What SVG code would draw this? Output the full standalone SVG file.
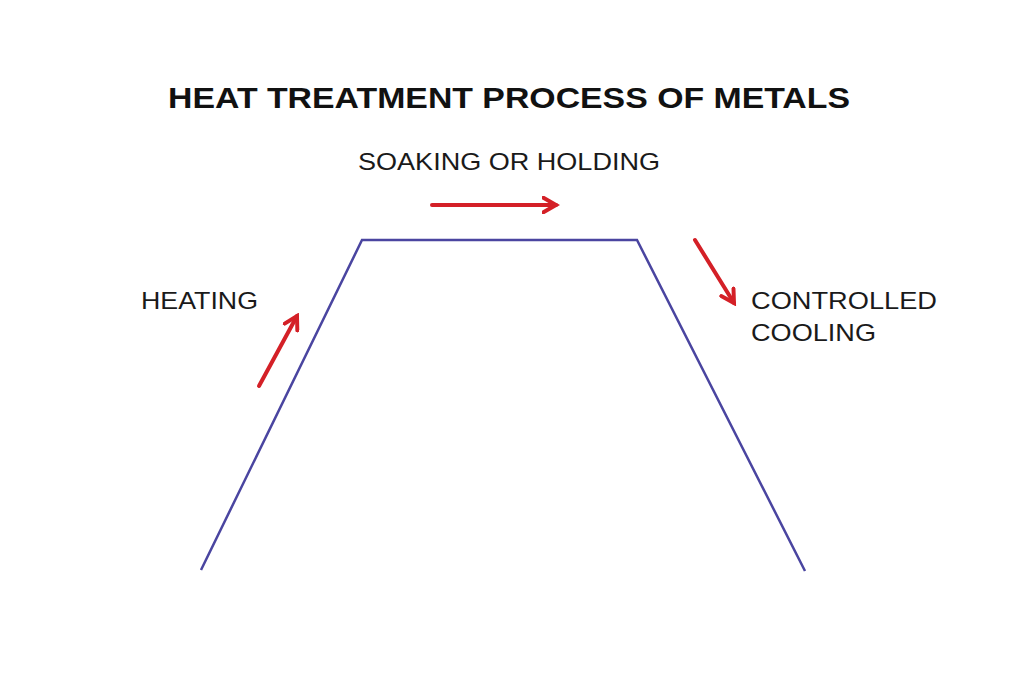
<svg xmlns="http://www.w3.org/2000/svg" width="1024" height="683" viewBox="0 0 1024 683">
<style>
.t{font-family:"Liberation Sans",Arial,sans-serif;font-size:24px;fill:#1a1a1a}
.h{font-family:"Liberation Sans",Arial,sans-serif;font-size:30px;font-weight:bold;fill:#111}
.a{stroke:#d42027;stroke-width:4;fill:none;stroke-linecap:round;stroke-linejoin:round}
</style>
<defs><marker id="m" viewBox="0 0 10 10" refX="8" refY="5" markerWidth="4.5" markerHeight="4.5" orient="auto" markerUnits="strokeWidth"><path d="M1,1 L8,5 L1,9" fill="none" stroke="#d42027" stroke-width="2.2" stroke-linecap="round"/></marker></defs>
<rect width="1024" height="683" fill="#fff"/>
<text class="h" x="168" y="108" textLength="682" lengthAdjust="spacingAndGlyphs">HEAT TREATMENT PROCESS OF METALS</text>
<g id="curve"><polyline points="201,570 362,240 637,240 805,571" fill="none" stroke="#4a45a0" stroke-width="2.5"/></g>
<g id="connectors">
<line class="a" x1="432" y1="205" x2="556" y2="205" marker-end="url(#m)"/>
<line class="a" x1="695" y1="240" x2="734" y2="303" marker-end="url(#m)"/>
<line class="a" x1="259" y1="386" x2="297" y2="316" marker-end="url(#m)"/>
</g>
<g id="soaking"><text class="t" x="358" y="170" textLength="302" lengthAdjust="spacingAndGlyphs">SOAKING OR HOLDING</text></g>
<g id="heating"><text class="t" x="141" y="309" textLength="117" lengthAdjust="spacingAndGlyphs">HEATING</text></g>
<g id="cooling"><text class="t" x="751" y="309" textLength="186" lengthAdjust="spacingAndGlyphs">CONTROLLED</text><text class="t" x="751" y="341" textLength="125" lengthAdjust="spacingAndGlyphs">COOLING</text></g>
</svg>
